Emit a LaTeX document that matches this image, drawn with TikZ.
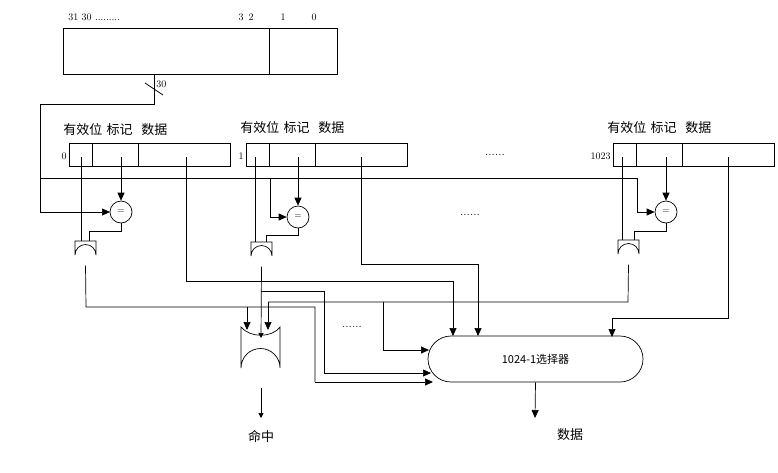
\documentclass[tikz,border=0pt]{standalone}
\usepackage{fontspec}
\newfontfamily\cjk{Noto Sans CJK SC}
\usetikzlibrary{arrows.meta}
\begin{document}
\begin{tikzpicture}[x=1pt,y=-1pt,line width=0.7pt,
  arr/.style={-{Triangle[length=8pt,width=7pt]}},
  sarr/.style={-{Triangle[length=5pt,width=5pt]}},
  cn/.style={font=\cjk\fontsize{13}{13}\selectfont,inner sep=0pt},
  num/.style={font=\fontsize{10}{10}\selectfont,inner sep=0pt},
  eq/.style={circle,draw,minimum size=22pt,inner sep=0pt,font=\fontsize{9}{9}\selectfont},
  dots/.style={font=\fontsize{12}{12}\selectfont,inner sep=0pt}]
\useasboundingbox (0,0) rectangle (778,472);
% address register
\draw (63,28) rectangle (337,74);
\draw (269,28) -- (269,74);
\node[num,anchor=west] (b31) at (68,17) {31\,\,30\,\,.........};
\node[num] (b32) at (246,17) {3\,\,\,2};
\node[num] (b1) at (283,17) {1};
\node[num] (b0) at (314,17) {0};
\coordinate (ad) at (154,74);
\draw (145,83) -- (163,95);
\node[num,anchor=west] (w30) at (156,84) {30};
% tag bus
\draw[arr] (ad) -- (154,104) -- (40,104) -- (40,212) -- (110,212);
\draw (40,178) -- (637,178);
% blocks
\foreach \bx/\lab/\nm/\ly in {69/0/A/130, 246/1/B/128, 613/1023/C/128}{
  \draw (\bx,143) rectangle (\bx+161,166);
  \draw (\bx+23,143) -- (\bx+23,166);
  \draw (\bx+69,143) -- (\bx+69,166);
  \node[num,anchor=east] (n\nm) at (\bx-2,156) {\lab};
  \node[cn,anchor=west] (v\nm) at (\bx-6,\ly) {有效位\,\,标记\,\,\,\,数据};
}
% equality comparators
\node[eq] (e0) at (121,212) {=};
\node[eq] (e1) at (298,217) {=};
\node[eq] (e2) at (666,212) {=};
\draw[arr] (121,157) -- (e0);
\draw[arr] (298,157) -- (e1);
\draw[arr] (666,157) -- (e2);
\draw[arr] (270,178) -- (270,217) -- (e1);
\draw[arr] (637,178) -- (637,212) -- (e2);
% AND gates
\foreach \x/\t/\nm in {75/241/g0, 251/242/g1, 618/240/g2}{
  \draw (\x,\t) -- (\x,\t+14) arc[start angle=180,end angle=360,radius=10.5] -- (\x+21,\t) -- cycle;
  \coordinate (\nm) at (\x+10.5,\t+24.5);
}
\draw (81,157) -- (81,241);
\draw (e0.south) -- (121,231) -- (89,231) -- (89,241);
\draw (255,157) -- (255,242);
\draw (e1.south) -- (298,235) -- (266,235) -- (266,242);
\draw (622,157) -- (622,240);
\draw (e2.south) -- (666,231) -- (634,231) -- (634,240);
% mux
\node[draw,rounded corners=23pt,minimum width=215pt,minimum height=46pt,inner sep=0pt,
  font=\cjk\fontsize{11}{11}\selectfont] (mux) at (535.5,359) {1024-1选择器};
% OR gate
\draw (241,327) .. controls (250,338) and (272,338) .. (280,327) -- (280,368)
  arc[start angle=0,end angle=-180,radius=19.5] -- cycle;
\coordinate (orout) at (261,388);
% AND outputs
\draw (g0) -- (86,307) -- (315,307) -- (315,382);
\draw[arr] (315,382) -- (433,382);
\draw[arr] (247,307) -- (247,330);
\draw[sarr] (g1) -- (261,338);
\draw (261,291) -- (324,291) -- (324,373);
\draw[arr] (324,373) -- (431,373);
\draw (g2) -- (628,302) -- (268,302);
\draw[arr] (268,302) -- (268,330);
\draw[arr] (383,302) -- (383,350) -- (429,350);
% data lines
\draw[arr] (186,157) -- (186,281) -- (453,281) -- (453,336);
\draw[arr] (361,157) -- (361,264) -- (478,264) -- (478,336);
\draw[arr] (728,157) -- (728,318) -- (612,318) -- (612,337);
% outputs
\draw[sarr] (orout) -- (261,418);
\node[cn] (hit) at (261,436) {命中};
\draw[arr] (mux.south) -- (535,418);
\node[cn] (dout) at (570,435) {数据};
% dots
\node[dots] (d1) at (495,155) {......};
\node[dots] (d2) at (470,215) {......};
\node[dots] (d3) at (352,327) {......};
\end{tikzpicture}
\end{document}
